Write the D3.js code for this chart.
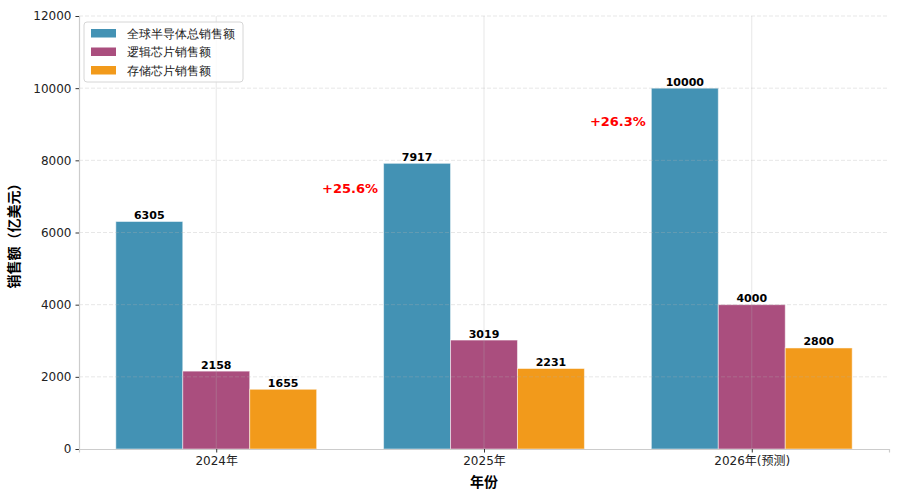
<!doctype html>
<html lang="zh">
<head>
<meta charset="UTF-8">
<title>半导体销售额</title>
<script src="https://cdn.jsdelivr.net/npm/d3@7"></script>
<style>
  body { margin: 0; background: #fff; }
  text { font-family: "DejaVu Sans", sans-serif; }
  .cjk { font-family: "DejaVu Sans", "Noto Sans CJK SC", sans-serif; }
</style>
</head>
<body>
<script>
var years = ["2024年", "2025年", "2026年(预测)"],
    seriesNames = ["全球半导体总销售额", "逻辑芯片销售额", "存储芯片销售额"],
    totalSales = [6305, 7917, 10000],
    logicSales = [2158, 3019, 4000],
    memorySales = [1655, 2231, 2800],
    growthLabels = ["+25.6%", "+26.3%"],
    yTicks = [0, 2000, 4000, 6000, 8000, 10000, 12000];

var colors = ["#4392b4", "#aa4e7e", "#f29a1b"],
    series = [totalSales, logicSales, memorySales];

var width = 899, height = 500,
    margin = {left: 79, right: 10, top: 16, bottom: 51},
    barW = 0.25;

var svg = d3.select("body").append("svg")
    .attr("width", width)
    .attr("height", height);

var x = d3.scaleLinear()
    .domain([-0.5125, 2.5125])
    .range([margin.left, width - margin.right]);

var y = d3.scaleLinear()
    .domain([0, 12000])
    .range([height - margin.bottom, margin.top]);

// bars
series.forEach(function(vals, s){
    svg.append("g").selectAll("rect")
        .data(vals)
        .enter()
        .append("rect")
        .attr("x", function(d, i){ return x(i + (s - 1) * barW - barW / 2); })
        .attr("y", function(d){ return y(d); })
        .attr("width", x(barW) - x(0))
        .attr("height", function(d){ return y(0) - y(d); })
        .attr("fill", colors[s])
        .attr("stroke", "rgba(255,255,255,0.5)")
        .attr("stroke-width", 1);
});

// grid on top of bars
svg.append("g").selectAll("line")
    .data(yTicks.slice(1))
    .enter()
    .append("line")
    .attr("x1", margin.left).attr("x2", width - margin.right)
    .attr("y1", function(d){ return y(d); })
    .attr("y2", function(d){ return y(d); })
    .attr("stroke", "#b0b0b0")
    .attr("stroke-opacity", 0.3)
    .attr("stroke-dasharray", "4,2");

svg.append("g").selectAll("line")
    .data(years)
    .enter()
    .append("line")
    .attr("x1", function(d, i){ return x(i); })
    .attr("x2", function(d, i){ return x(i); })
    .attr("y1", margin.top).attr("y2", y(0))
    .attr("stroke", "#b0b0b0")
    .attr("stroke-opacity", 0.3);

// value labels
series.forEach(function(vals, s){
    svg.append("g").selectAll("text")
        .data(vals)
        .enter()
        .append("text")
        .attr("x", function(d, i){ return x(i + (s - 1) * barW); })
        .attr("y", function(d){ return y(d) - 2.5; })
        .attr("text-anchor", "middle")
        .attr("font-size", 11)
        .attr("font-weight", "bold")
        .attr("fill", "#000")
        .text(function(d){ return d; });
});

// growth labels
svg.append("g").selectAll("text")
    .data(growthLabels)
    .enter()
    .append("text")
    .attr("x", function(d, i){ return x(i + 0.5); })
    .attr("y", function(d, i){ return y((totalSales[i] + totalSales[i + 1]) / 2) - 4; })
    .attr("dy", "0.35em")
    .attr("text-anchor", "middle")
    .attr("font-size", 13)
    .attr("font-weight", "bold")
    .attr("fill", "#ff0000")
    .text(function(d){ return d; });

// axes
var yAxis = svg.append("g")
    .attr("transform", "translate(" + margin.left + ",0)")
    .call(d3.axisLeft(y).tickValues(yTicks).tickSize(3.5).tickPadding(4).tickFormat(d3.format("d")));

var xAxis = svg.append("g")
    .attr("transform", "translate(0," + y(0) + ")")
    .call(d3.axisBottom(x).tickValues([0, 1, 2]).tickSize(3.5).tickPadding(4)
        .tickFormat(function(d){ return years[d]; }));

[yAxis, xAxis].forEach(function(a){
    a.select(".domain").attr("stroke", "#cccccc").attr("stroke-width", 1.2);
    a.selectAll(".tick line").attr("stroke", "#333");
    a.selectAll(".tick text")
        .attr("class", "cjk")
        .attr("font-size", 12)
        .attr("fill", "#222");
});

// axis titles
svg.append("text")
    .attr("class", "cjk")
    .attr("transform", "translate(19," + ((margin.top + y(0)) / 2) + ") rotate(-90)")
    .attr("text-anchor", "middle")
    .attr("font-size", 14)
    .attr("font-weight", "bold")
    .attr("font-family", "Noto Sans CJK SC")
    .text("销售额（亿美元）");

svg.append("text")
    .attr("class", "cjk")
    .attr("x", (margin.left + width - margin.right) / 2)
    .attr("y", 487)
    .attr("text-anchor", "middle")
    .attr("font-size", 14)
    .attr("font-weight", "bold")
    .attr("font-family", "Noto Sans CJK SC")
    .text("年份");

// legend
var legend = svg.append("g").attr("transform", "translate(84,22)");
legend.append("rect")
    .attr("width", 159).attr("height", 60)
    .attr("rx", 3)
    .attr("fill", "rgba(255,255,255,0.8)")
    .attr("stroke", "#d6d6d6");

var item = legend.selectAll("g")
    .data(seriesNames)
    .enter()
    .append("g")
    .attr("transform", function(d, i){ return "translate(7," + (7 + i * 18.5) + ")"; });

item.append("rect")
    .attr("width", 25).attr("height", 8.5)
    .attr("fill", function(d, i){ return colors[i]; });

item.append("text")
    .attr("x", 36).attr("y", 4.5)
    .attr("dy", "0.35em")
    .attr("font-size", 12)
    .attr("font-family", "Noto Sans CJK SC")
    .attr("fill", "#222")
    .text(function(d){ return d; });
</script>
</body>
</html>
